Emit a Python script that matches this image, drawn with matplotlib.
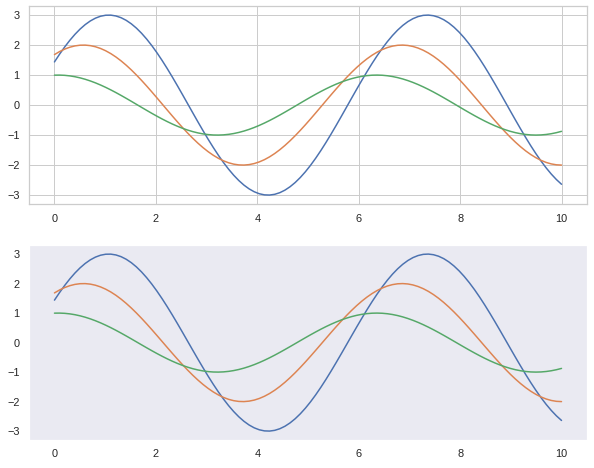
import numpy as np
import matplotlib.pyplot as plt
import seaborn as sns

# sine curves: amplitude and phase of each line
amplitudes = [3, 2, 1]
phases = [0.5, 1.0, 1.5]
x = np.linspace(0, 10, 100)


def sinplot(ax):
    for amp, ph in zip(amplitudes, phases):
        ax.plot(x, amp * np.sin(x + ph))


sns.set_theme(context="notebook", palette="deep")
fam = {"font.family": ["Liberation Sans", "DejaVu Sans"]}
plt.rcParams.update(fam)

fig = plt.figure(figsize=(594 / 72, 468 / 72), dpi=72)

with sns.axes_style("whitegrid", rc=fam):
    ax1 = fig.add_axes([0.049, 0.564, 0.939, 0.423])
    sinplot(ax1)

with sns.axes_style("dark", rc=fam):
    ax2 = fig.add_axes([0.049, 0.060, 0.939, 0.416])
    sinplot(ax2)

for ax in (ax1, ax2):
    ax.set_xticks([0, 2, 4, 6, 8, 10])
    ax.set_yticks([-3, -2, -1, 0, 1, 2, 3])

fig.savefig("out.png", dpi=72)
